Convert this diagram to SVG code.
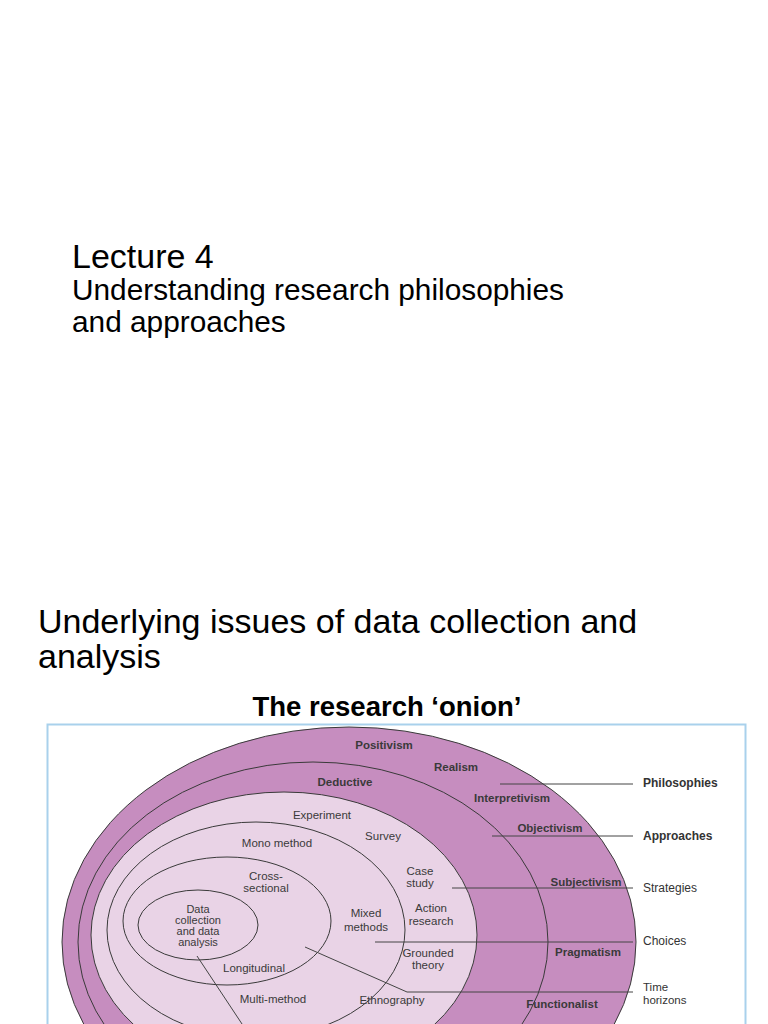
<svg xmlns="http://www.w3.org/2000/svg" width="768" height="1024" viewBox="0 0 768 1024">
<style>
.title{font-family:"Liberation Sans",Arial,sans-serif;fill:#000}
.ring{stroke:#3a3a3a;stroke-width:1}
.dark{fill:#c68dbf}
.light{fill:#e9d3e6}
.none{fill:none}
.lb{font-family:"Liberation Sans",Arial,sans-serif;font-size:11.5px;fill:#3a3a3a;text-anchor:middle}
.core{font-size:11px}
.b{font-weight:bold}
.side{font-family:"Liberation Sans",Arial,sans-serif;font-size:12px;fill:#333}
.small{font-size:11.5px}
.con{stroke:#444;stroke-width:1;fill:none}
</style>
<rect width="768" height="1024" fill="#ffffff"/>
<g id="slide-title">
<text class="title" x="72" y="268" font-size="34">Lecture 4</text>
<text class="title" x="72" y="300" font-size="29.8">Understanding research philosophies</text>
<text class="title" x="72" y="332" font-size="29.8">and approaches</text>
</g>
<g id="section-title">
<text class="title" x="38" y="633" font-size="34">Underlying issues of data collection and</text>
<text class="title" x="38" y="668" font-size="34">analysis</text>
<text class="title" x="387" y="716" font-size="27.5" font-weight="bold" text-anchor="middle">The research ‘onion’</text>
</g>
<rect id="frame" x="47.5" y="724.5" width="698" height="330" fill="#ffffff" stroke="#a9d1ec" stroke-width="2"/>
<g id="onion">
<ellipse id="ring-philosophies" class="ring dark" cx="349" cy="942" rx="287" ry="215"/>
<ellipse id="ring-approaches" class="ring dark" cx="313" cy="942" rx="235" ry="180"/>
<ellipse id="ring-strategies" class="ring light" cx="284" cy="935" rx="193" ry="143"/>
<ellipse id="ring-choices" class="ring none" cx="256" cy="930" rx="149" ry="108"/>
<ellipse id="ring-time" class="ring none" cx="227" cy="921" rx="104" ry="64"/>
<ellipse id="core" class="ring none" cx="198" cy="925" rx="60" ry="35"/>
</g>
<g id="connectors">
<path class="con" d="M500 784H633"/>
<path class="con" d="M492 836H633"/>
<path class="con" d="M452 888H633"/>
<path class="con" d="M375 942H633"/>
<path class="con" d="M305 947L407 992H633"/>
<path class="con" d="M197 956L246 1030"/>
</g>
<g id="philosophy-labels">
<text class="lb b" x="384" y="749">Positivism</text>
<text class="lb b" x="456" y="771">Realism</text>
<text class="lb b" x="512" y="802">Interpretivism</text>
<text class="lb b" x="550" y="832">Objectivism</text>
<text class="lb b" x="586" y="886">Subjectivism</text>
<text class="lb b" x="588" y="956">Pragmatism</text>
<text class="lb b" x="562" y="1008">Functionalist</text>
</g>
<g id="approach-labels">
<text class="lb b" x="345" y="786">Deductive</text>
</g>
<g id="strategy-labels">
<text class="lb" x="322" y="819">Experiment</text>
<text class="lb" x="383" y="840">Survey</text>
<text class="lb" x="420" y="875">Case</text>
<text class="lb" x="420" y="887">study</text>
<text class="lb" x="431" y="912">Action</text>
<text class="lb" x="431" y="925">research</text>
<text class="lb" x="428" y="957">Grounded</text>
<text class="lb" x="428" y="969">theory</text>
<text class="lb" x="392" y="1004">Ethnography</text>
</g>
<g id="choice-labels">
<text class="lb" x="277" y="847">Mono method</text>
<text class="lb" x="366" y="917">Mixed</text>
<text class="lb" x="366" y="931">methods</text>
<text class="lb" x="273" y="1003">Multi-method</text>
</g>
<g id="time-labels">
<text class="lb" x="266" y="880">Cross-</text>
<text class="lb" x="266" y="892">sectional</text>
<text class="lb" x="254" y="972">Longitudinal</text>
</g>
<g id="core-label">
<text class="lb core" x="198" y="913">Data</text>
<text class="lb core" x="198" y="924">collection</text>
<text class="lb core" x="198" y="935">and data</text>
<text class="lb core" x="198" y="946">analysis</text>
</g>
<g id="side-labels">
<text class="side b" x="643" y="787">Philosophies</text>
<text class="side b" x="643" y="840">Approaches</text>
<text class="side" x="643" y="892">Strategies</text>
<text class="side" x="643" y="945">Choices</text>
<text class="side small" x="643" y="991">Time</text>
<text class="side small" x="643" y="1004">horizons</text>
</g>
</svg>
